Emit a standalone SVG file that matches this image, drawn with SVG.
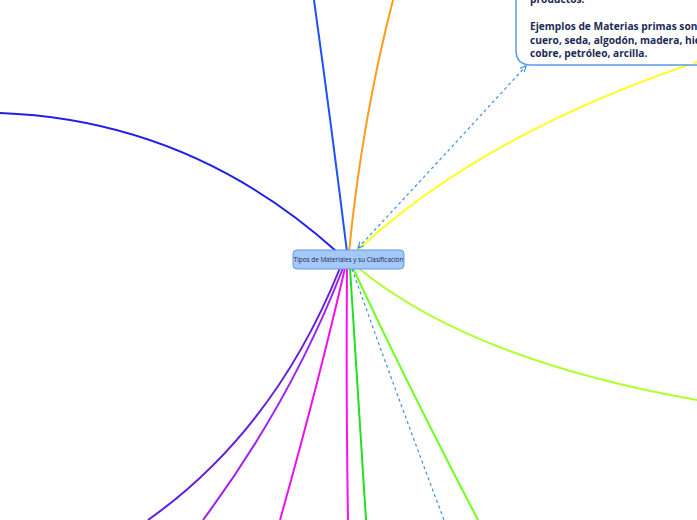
<svg xmlns="http://www.w3.org/2000/svg" width="697" height="520" viewBox="0 0 697 520">
<style>
.c{fill:none;stroke-width:2}
.d{fill:none;stroke:#3d8ee6;stroke-width:1.2;stroke-dasharray:3,3}
.t{font-family:"Open Sans",sans-serif;font-weight:bold;font-size:10.2px;fill:#1b2b55}
</style>
<defs>
<marker id="a" viewBox="0 0 10 10" refX="9" refY="5" markerWidth="6" markerHeight="6" orient="auto-start-reverse">
<path d="M1,1 L9,5 L1,9" fill="none" stroke="#3d8ee6" stroke-width="1.6"/>
</marker>
</defs>
<rect width="697" height="520" fill="#fff"/>
<g id="connectors">
<path class="c" stroke="#1f52f0" d="M347,252 Q332,130 314,0"/>
<path class="c" stroke="#ff9c1c" d="M349,252 Q362,120 393,0"/>
<path class="c" stroke="#ffff22" d="M357,251 Q480,135 697,62"/>
<path class="c" stroke="#2020e8" d="M336,251 Q190,120 0,113"/>
<path class="c" stroke="#b0ff30" d="M357,267 Q470,360 697,400"/>
<path class="c" stroke="#70ff20" d="M353,268 Q400,370 478,520"/>
<path class="c" stroke="#20e020" d="M350,268 Q358,390 366,520"/>
<path class="c" stroke="#ff10f0" d="M347,268 Q346,400 348,520"/>
<path class="c" stroke="#ee10ee" d="M345,268 Q318,385 280,520"/>
<path class="c" stroke="#a020f0" d="M343,268 Q292,400 203,520"/>
<path class="c" stroke="#6020e0" d="M340,268 Q275,430 148,520"/>
<path class="d" d="M352,269 Q395,390 444,520"/>
<path class="d" marker-start="url(#a)" marker-end="url(#a)" d="M358,248 Q440,160 526,66"/>
</g>
<g id="note">
<path d="M516,-20 L516,50 Q516,65 531,65 L697,65" fill="#fff" stroke="#5b9be8" stroke-width="1.5"/>
<text class="t" x="530" y="3">productos.</text>
<text class="t" x="530" y="30">Ejemplos de Materias primas son:</text>
<text class="t" x="530" y="43.5">cuero, seda, algodón, madera, hierro,</text>
<text class="t" x="530" y="57">cobre, petróleo, arcilla.</text>
</g>
<g id="center">
<rect x="293" y="250" width="111" height="19" rx="4" fill="#a4c8f7" stroke="#5b9be8" stroke-width="1"/>
<text x="348.5" y="262" text-anchor="middle" font-family="'Open Sans',sans-serif" font-size="6.4" fill="#1b2b55">Tipos de Materiales y su Clasificación</text>
</g>
</svg>
